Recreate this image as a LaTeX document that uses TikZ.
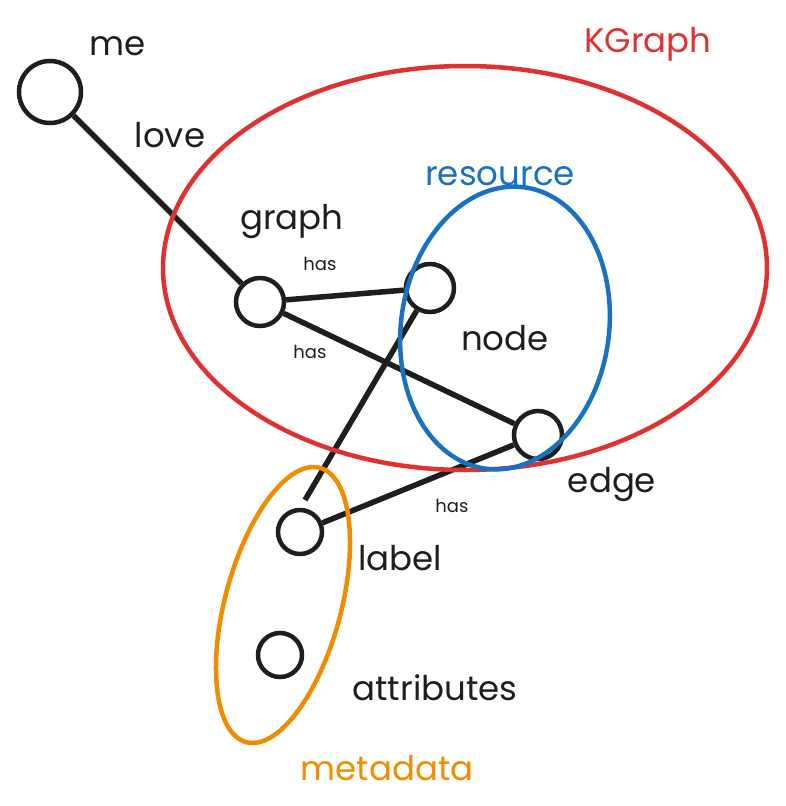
\documentclass[tikz,border=0pt]{standalone}
\usepackage{fontspec}
\setmainfont{Poppins}
\definecolor{kred}{HTML}{E03131}
\definecolor{kblue}{HTML}{1971C2}
\definecolor{korange}{HTML}{F08C00}
\definecolor{kblack}{HTML}{1E1E1E}
\begin{document}
\begin{tikzpicture}[x=1pt,y=-1pt,
  circ/.style={draw=kblack,line width=4.5pt,circle,inner sep=0pt},
  edgeln/.style={draw=kblack,line width=5.5pt},
  big/.style={font=\fontsize{34}{38}\selectfont,text=kblack},
  small/.style={font=\fontsize{18}{20}\selectfont,text=kblack}]
\useasboundingbox[fill=white] (0,0) rectangle (786,806);
\node[circ,minimum size=62pt] (me) at (50,92) {};
\node[circ,minimum size=48pt] (graph) at (260,302) {};
\node[circ,minimum size=48pt] (nd) at (430,288) {};
\node[circ,minimum size=48pt] (ed) at (538,435) {};
\node[circ,minimum size=44pt] (lb) at (300,532) {};
\node[circ,minimum size=44pt] (at) at (280,655) {};
\coordinate (lbtop) at (305,500);
\draw[edgeln] (me) -- (graph);
\draw[edgeln] (graph) -- (nd);
\draw[edgeln] (graph) -- (ed);
\draw[edgeln] (nd) -- (lbtop);
\draw[edgeln] (ed) -- (lb);
\draw[kred,line width=4.5pt] (465,268) ellipse [x radius=302, y radius=202];
\draw[kblue,line width=4.5pt,rotate around={-8:(505,328)}] (505,328) ellipse [x radius=104, y radius=142];
\draw[korange,line width=4.5pt,rotate around={-15:(283,605)}] (283,605) ellipse [x radius=58, y radius=142];
\node[big] (tme) at (118,46) {me};
\node[big] (tlove) at (170,135) {love};
\node[big] (tgraph) at (292,222) {graph};
\node[small] (h1) at (320,264) {has};
\node[small] (h2) at (310,352) {has};
\node[big] (tnode) at (505,338) {node};
\node[big] (tedge) at (612,485) {edge};
\node[small] (h3) at (452,506) {has};
\node[big] (tlabel) at (400,558) {label};
\node[big] (tattr) at (435,688) {attributes};
\node[big,text=kred] (kg) at (648,44) {KGraph};
\node[big,text=kblue] (res) at (500,176) {resource};
\node[big,text=korange] (md) at (387,768) {metadata};
\end{tikzpicture}
\end{document}
